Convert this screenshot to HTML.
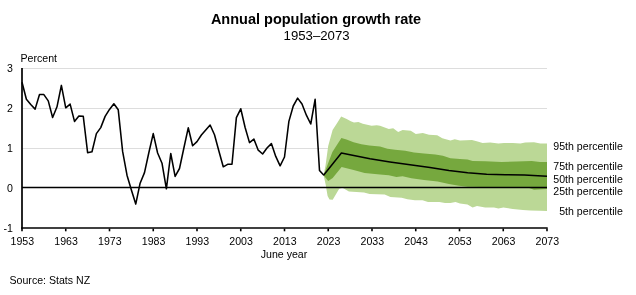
<!DOCTYPE html>
<html><head><meta charset="utf-8"><style>
html,body{margin:0;padding:0;background:#fff;}
body{width:636px;height:295px;overflow:hidden;font-family:"Liberation Sans",sans-serif;}
svg{display:block;will-change:transform;}
</style></head><body>
<svg width="636" height="295" viewBox="0 0 636 295">
<line x1="22" y1="68.5" x2="547" y2="68.5" stroke="#DDDDDD" stroke-width="1"/>
<line x1="22" y1="108.5" x2="547" y2="108.5" stroke="#DDDDDD" stroke-width="1"/>
<line x1="22" y1="148.5" x2="547" y2="148.5" stroke="#DDDDDD" stroke-width="1"/>
<polygon points="323.60,175.20 325.60,165.00 328.20,146.00 332.60,130.00 337.00,123.30 341.20,116.60 346.70,119.00 350.80,121.20 354.00,122.60 358.40,122.00 362.80,123.80 371.60,125.70 376.70,125.30 380.00,125.70 388.80,128.90 393.20,128.20 398.20,132.00 402.60,130.10 410.80,130.80 415.80,133.90 422.80,133.00 429.00,134.80 437.20,135.20 442.30,138.30 450.40,140.60 454.80,139.20 460.00,140.60 472.00,140.10 477.60,141.40 482.60,143.00 490.20,142.40 498.40,143.60 504.00,142.90 512.80,142.90 520.40,143.60 525.20,142.40 534.00,142.20 540.30,143.50 547.00,143.60 547.00,211.00 540.00,210.70 530.40,210.50 522.90,210.00 512.80,208.90 503.40,207.40 498.40,208.60 494.00,207.40 485.20,207.60 477.00,206.10 472.60,207.40 467.50,204.50 460.00,203.50 455.50,202.00 450.40,203.00 445.00,203.00 439.40,202.00 428.00,202.00 422.50,200.20 414.90,200.20 407.40,199.20 401.70,197.70 390.40,197.00 384.70,194.50 369.60,193.90 364.00,192.60 348.90,191.50 342.50,187.80 339.20,188.80 332.70,199.70 329.50,199.50 327.60,195.90 325.60,184.30 323.60,175.20" fill="#BBD896"/>
<polygon points="323.60,175.20 332.40,152.00 341.40,138.00 346.50,139.50 353.60,142.20 361.40,144.20 369.30,145.40 377.20,146.20 380.00,146.60 387.50,148.80 395.10,149.80 405.20,150.70 414.00,152.60 424.00,153.60 435.30,154.50 442.90,155.80 450.40,158.30 460.00,158.90 467.50,159.40 472.60,161.10 485.20,161.30 501.50,161.90 516.60,161.60 531.70,161.10 540.00,161.90 547.00,162.10 547.00,188.90 534.00,189.70 527.80,187.60 514.00,187.60 467.80,186.80 459.00,185.80 448.90,184.00 437.60,181.40 424.00,180.10 411.40,178.20 402.60,176.30 396.40,177.00 388.80,175.30 380.00,174.40 364.60,173.00 353.60,170.00 341.60,167.00 332.70,177.90 328.20,181.10 323.60,175.20" fill="#76A83E"/>
<line x1="22" y1="187.4" x2="547" y2="187.4" stroke="#000" stroke-width="1.5"/>
<polyline points="22.00,82.30 26.38,99.30 30.75,104.50 35.12,109.10 39.50,94.50 43.88,94.60 48.25,100.90 52.62,117.50 57.00,106.80 61.38,85.40 65.75,107.80 70.12,104.10 74.50,121.40 78.88,116.00 83.25,116.20 87.62,152.70 92.00,151.80 96.38,133.60 100.75,127.60 105.12,116.40 109.50,109.40 113.88,103.80 118.25,109.80 122.62,151.40 127.00,175.20 131.38,190.00 135.75,204.10 140.12,183.20 144.50,172.60 148.88,152.50 153.25,133.60 157.62,153.00 162.00,163.20 166.38,188.80 170.75,153.50 175.12,176.40 179.50,168.50 183.88,148.00 188.25,127.80 192.62,145.80 197.00,141.60 201.38,135.00 205.75,130.00 210.12,125.00 214.50,134.80 218.88,151.00 223.25,166.80 227.62,164.30 232.00,164.30 236.38,117.60 240.75,108.80 245.12,127.50 249.50,142.60 253.88,139.10 258.25,150.20 262.62,154.00 267.00,148.00 271.38,143.60 275.75,156.40 280.12,165.80 284.50,157.00 288.88,121.40 293.25,106.00 297.62,98.10 302.00,104.00 306.38,115.20 310.75,124.00 315.12,99.30 319.50,170.50 323.88,175.20" fill="none" stroke="#000" stroke-width="1.55" stroke-linejoin="round"/>
<polyline points="323.60,175.20 341.40,153.00 350.00,154.70 370.00,158.80 390.00,162.00 410.00,164.80 430.00,167.50 448.90,170.40 467.70,172.80 486.60,174.20 505.50,174.70 524.30,175.10 547.00,176.30" fill="none" stroke="#000" stroke-width="1.5" stroke-linejoin="round"/>
<line x1="22" y1="68" x2="22" y2="229" stroke="#000" stroke-width="1.7"/>
<line x1="21.15" y1="228" x2="547.7" y2="228" stroke="#000" stroke-width="1.7"/>
<line x1="22.00" y1="228.6" x2="22.00" y2="231.3" stroke="#000" stroke-width="1.6"/>
<line x1="65.75" y1="228.6" x2="65.75" y2="231.3" stroke="#000" stroke-width="1.6"/>
<line x1="109.50" y1="228.6" x2="109.50" y2="231.3" stroke="#000" stroke-width="1.6"/>
<line x1="153.25" y1="228.6" x2="153.25" y2="231.3" stroke="#000" stroke-width="1.6"/>
<line x1="197.00" y1="228.6" x2="197.00" y2="231.3" stroke="#000" stroke-width="1.6"/>
<line x1="240.75" y1="228.6" x2="240.75" y2="231.3" stroke="#000" stroke-width="1.6"/>
<line x1="284.50" y1="228.6" x2="284.50" y2="231.3" stroke="#000" stroke-width="1.6"/>
<line x1="328.25" y1="228.6" x2="328.25" y2="231.3" stroke="#000" stroke-width="1.6"/>
<line x1="372.00" y1="228.6" x2="372.00" y2="231.3" stroke="#000" stroke-width="1.6"/>
<line x1="415.75" y1="228.6" x2="415.75" y2="231.3" stroke="#000" stroke-width="1.6"/>
<line x1="459.50" y1="228.6" x2="459.50" y2="231.3" stroke="#000" stroke-width="1.6"/>
<line x1="503.25" y1="228.6" x2="503.25" y2="231.3" stroke="#000" stroke-width="1.6"/>
<line x1="547.00" y1="228.6" x2="547.00" y2="231.3" stroke="#000" stroke-width="1.6"/>
<text transform="translate(316.00 23.50) scale(1 1.0)" text-anchor="middle" font-size="14.5" font-weight="bold" font-family="Liberation Sans, sans-serif" fill="#000">Annual population growth rate</text>
<text transform="translate(316.60 40.00) scale(1 1.0)" text-anchor="middle" font-size="13.2" font-weight="normal" font-family="Liberation Sans, sans-serif" fill="#000">1953–2073</text>
<text transform="translate(20.50 61.80) scale(1 1.0)" text-anchor="start" font-size="10.6" font-weight="normal" font-family="Liberation Sans, sans-serif" fill="#000">Percent</text>
<text transform="translate(12.80 71.80) scale(1 1.0)" text-anchor="end" font-size="10.6" font-weight="normal" font-family="Liberation Sans, sans-serif" fill="#000">3</text>
<text transform="translate(12.80 111.80) scale(1 1.0)" text-anchor="end" font-size="10.6" font-weight="normal" font-family="Liberation Sans, sans-serif" fill="#000">2</text>
<text transform="translate(12.80 151.80) scale(1 1.0)" text-anchor="end" font-size="10.6" font-weight="normal" font-family="Liberation Sans, sans-serif" fill="#000">1</text>
<text transform="translate(12.80 191.80) scale(1 1.0)" text-anchor="end" font-size="10.6" font-weight="normal" font-family="Liberation Sans, sans-serif" fill="#000">0</text>
<text transform="translate(12.80 231.80) scale(1 1.0)" text-anchor="end" font-size="10.6" font-weight="normal" font-family="Liberation Sans, sans-serif" fill="#000">-1</text>
<text transform="translate(22.30 244.60) scale(1 1.0)" text-anchor="middle" font-size="10.6" font-weight="normal" font-family="Liberation Sans, sans-serif" fill="#000">1953</text>
<text transform="translate(66.05 244.60) scale(1 1.0)" text-anchor="middle" font-size="10.6" font-weight="normal" font-family="Liberation Sans, sans-serif" fill="#000">1963</text>
<text transform="translate(109.80 244.60) scale(1 1.0)" text-anchor="middle" font-size="10.6" font-weight="normal" font-family="Liberation Sans, sans-serif" fill="#000">1973</text>
<text transform="translate(153.55 244.60) scale(1 1.0)" text-anchor="middle" font-size="10.6" font-weight="normal" font-family="Liberation Sans, sans-serif" fill="#000">1983</text>
<text transform="translate(197.30 244.60) scale(1 1.0)" text-anchor="middle" font-size="10.6" font-weight="normal" font-family="Liberation Sans, sans-serif" fill="#000">1993</text>
<text transform="translate(241.05 244.60) scale(1 1.0)" text-anchor="middle" font-size="10.6" font-weight="normal" font-family="Liberation Sans, sans-serif" fill="#000">2003</text>
<text transform="translate(284.80 244.60) scale(1 1.0)" text-anchor="middle" font-size="10.6" font-weight="normal" font-family="Liberation Sans, sans-serif" fill="#000">2013</text>
<text transform="translate(328.55 244.60) scale(1 1.0)" text-anchor="middle" font-size="10.6" font-weight="normal" font-family="Liberation Sans, sans-serif" fill="#000">2023</text>
<text transform="translate(372.30 244.60) scale(1 1.0)" text-anchor="middle" font-size="10.6" font-weight="normal" font-family="Liberation Sans, sans-serif" fill="#000">2033</text>
<text transform="translate(416.05 244.60) scale(1 1.0)" text-anchor="middle" font-size="10.6" font-weight="normal" font-family="Liberation Sans, sans-serif" fill="#000">2043</text>
<text transform="translate(459.80 244.60) scale(1 1.0)" text-anchor="middle" font-size="10.6" font-weight="normal" font-family="Liberation Sans, sans-serif" fill="#000">2053</text>
<text transform="translate(503.55 244.60) scale(1 1.0)" text-anchor="middle" font-size="10.6" font-weight="normal" font-family="Liberation Sans, sans-serif" fill="#000">2063</text>
<text transform="translate(547.30 244.60) scale(1 1.0)" text-anchor="middle" font-size="10.6" font-weight="normal" font-family="Liberation Sans, sans-serif" fill="#000">2073</text>
<text transform="translate(284.00 258.20) scale(1 1.0)" text-anchor="middle" font-size="10.6" font-weight="normal" font-family="Liberation Sans, sans-serif" fill="#000">June year</text>
<text transform="translate(9.50 284.20) scale(1 1.0)" text-anchor="start" font-size="10.6" font-weight="normal" font-family="Liberation Sans, sans-serif" fill="#000">Source: Stats NZ</text>
<text transform="translate(622.80 150.00) scale(1 1.0)" text-anchor="end" font-size="10.6" font-weight="normal" font-family="Liberation Sans, sans-serif" fill="#000">95th percentile</text>
<text transform="translate(622.80 169.80) scale(1 1.0)" text-anchor="end" font-size="10.6" font-weight="normal" font-family="Liberation Sans, sans-serif" fill="#000">75th percentile</text>
<text transform="translate(622.80 182.70) scale(1 1.0)" text-anchor="end" font-size="10.6" font-weight="normal" font-family="Liberation Sans, sans-serif" fill="#000">50th percentile</text>
<text transform="translate(622.80 194.60) scale(1 1.0)" text-anchor="end" font-size="10.6" font-weight="normal" font-family="Liberation Sans, sans-serif" fill="#000">25th percentile</text>
<text transform="translate(622.80 214.90) scale(1 1.0)" text-anchor="end" font-size="10.6" font-weight="normal" font-family="Liberation Sans, sans-serif" fill="#000">5th percentile</text>
</svg>
</body></html>
